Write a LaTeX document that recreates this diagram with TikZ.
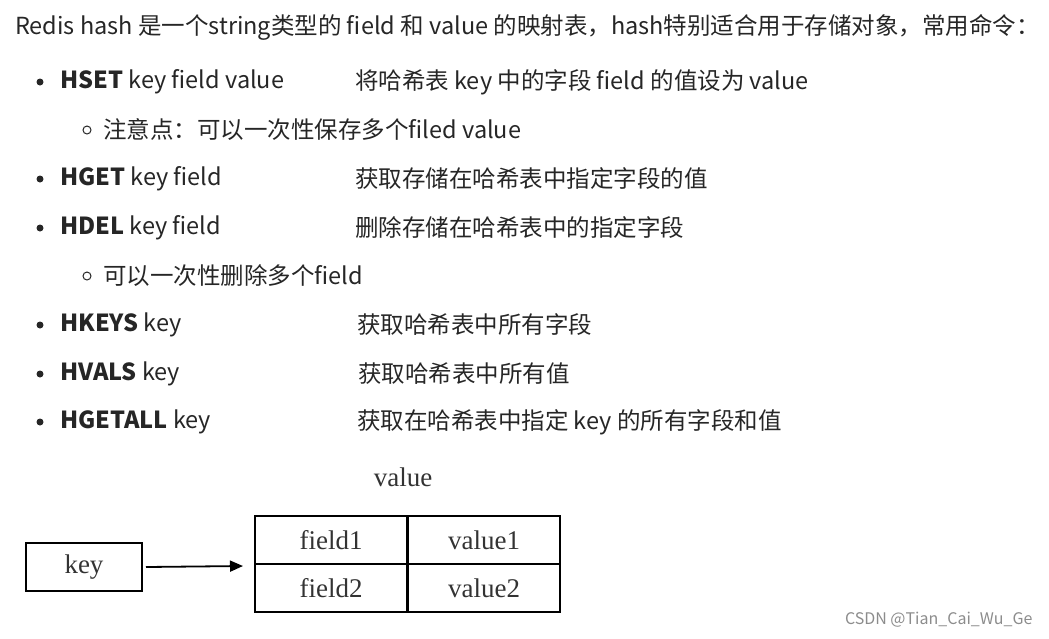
\documentclass[tikz,border=0pt]{standalone}
\usepackage{fontspec}
\newfontfamily\cjk{Noto Sans CJK SC}
\newfontfamily\ser{Liberation Serif}
\usetikzlibrary{arrows.meta}
\begin{document}
\begin{tikzpicture}[x=1pt,y=-1pt,
  t/.style={anchor=west,inner sep=0,font=\cjk\fontsize{23.5}{27}\selectfont,text=black!85},
  dot/.style={circle,fill=black!85,inner sep=0,minimum size=7},
  odot/.style={circle,draw=black!85,line width=1,inner sep=0,minimum size=8},
  bx/.style={draw,line width=2,minimum height=48,font=\ser\fontsize{27}{30}\selectfont,text=black!80}]
\useasboundingbox (0,0) rectangle (1049,638);
\node[t] (intro) at (15,27) {Redis hash 是一个string类型的 field 和 value 的映射表，hash特别适合用于存储对象，常用命令：};
\foreach \n/\y/\c/\a/\dx/\d in {
 a/82/HSET/key field value/355/将哈希表 key 中的字段 field 的值设为 value,
 b/179/HGET/key field/355/获取存储在哈希表中指定字段的值,
 c/228/HDEL/key field/355/删除存储在哈希表中的指定字段,
 d/325/HKEYS/key/357/获取哈希表中所有字段,
 e/374/HVALS/key/358/获取哈希表中所有值,
 f/422/HGETALL/key/357/获取在哈希表中指定 key 的所有字段和值}{
 \node[dot] (d\n) at (40,\y) {};
 \node[t] (c\n) at (60,\y) {\textbf{\c} \a};
 \node[t] (x\n) at (\dx,\y) {\d};
}
\node[odot] (o1) at (87,130) {};
\node[t] (s1) at (103,130) {注意点：可以一次性保存多个filed value};
\node[odot] (o2) at (87,276) {};
\node[t] (s2) at (103,276) {可以一次性删除多个field};
\node[bx,minimum width=116] (key) at (84,567) {key};
\node[bx,minimum width=152] (f1) at (331,540) {field1};
\node[bx,minimum width=152] (v1) at (484,540) {value1};
\node[bx,minimum width=152] (f2) at (331,588) {field2};
\node[bx,minimum width=152] (v2) at (484,588) {value2};
\node[font=\ser\fontsize{27}{30}\selectfont,text=black!80] (val) at (403,477) {value};
\coordinate (tip) at (243,566);
\draw[line width=1.8,-{Triangle[length=13,width=11]}] (key.east) ++(3,0) -- (tip);
\node[anchor=east,font=\cjk\fontsize{16}{18}\selectfont,text=black!45] (wm) at (1036,620) {CSDN @Tian\_Cai\_Wu\_Ge};
\end{tikzpicture}
\end{document}
